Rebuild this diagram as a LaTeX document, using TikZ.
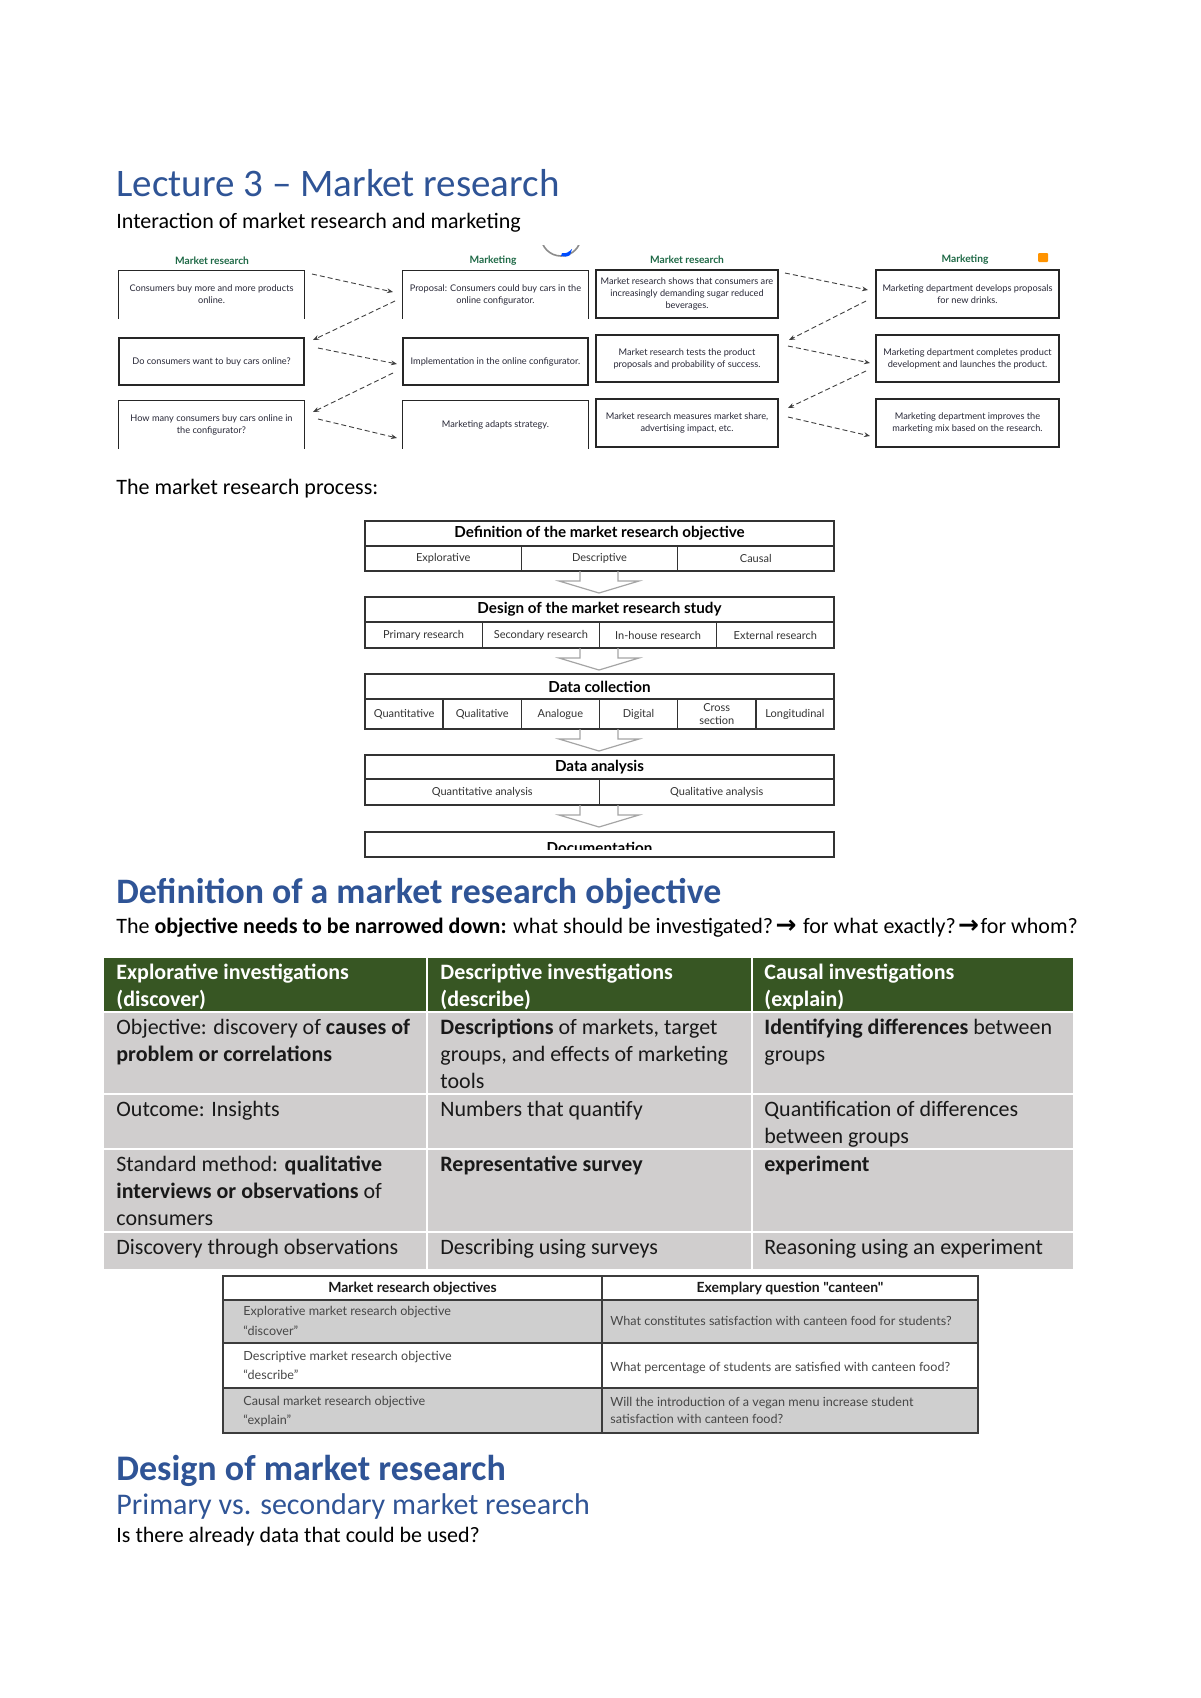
\documentclass[tikz,border=0pt]{standalone}
\usepackage{fontspec}
\setmainfont{Carlito}
\newfontfamily\dgf{Lato}
\newfontfamily\symf{DejaVu Sans}
\usetikzlibrary{arrows.meta}
\definecolor{hblue}{RGB}{47,84,150}
\definecolor{tgreen}{RGB}{55,86,35}
\definecolor{tgray}{RGB}{208,206,206}
\definecolor{lgreen}{RGB}{30,105,70}
\definecolor{dtext}{RGB}{40,40,55}
\definecolor{ttwogray}{RGB}{207,207,207}
\definecolor{ttwoline}{RGB}{60,60,60}
\definecolor{arrgray}{RGB}{165,165,165}
\newcommand\myarr{{\symf\bfseries\fontsize{12.5}{13}\selectfont\hspace{1.2pt}→\hspace{0.8pt}}}
\begin{document}
\begin{tikzpicture}[x=0.5pt,y=-0.5pt,
 tl/.style={anchor=base west,inner sep=0pt},
 tc/.style={anchor=base,inner sep=0pt},
 mbox/.style={draw=black!85,line width=0.6pt,inner sep=1pt,align=center,text=dtext,font=\dgf\fontsize{4.6}{6}\selectfont,minimum height=23.5pt},
 boxline/.style={draw=black!85,line width=0.6pt},
 mlab/.style={inner sep=0pt,text=lgreen,font=\dgf\bfseries\fontsize{5.1}{6}\selectfont},
 darr/.style={draw=black!75,line width=0.45pt,dash pattern=on 2.5pt off 1.5pt,-{Stealth[length=3pt,width=2.4pt]}},
 phead/.style={draw=black!80,line width=0.7pt,minimum width=234.5pt,inner sep=0pt,font=\dgf\bfseries\fontsize{7.6}{9}\selectfont},
 psub/.style={draw=black!80,line width=0.7pt,inner sep=0pt,align=center,text=black!80,font=\dgf\fontsize{5.5}{6.2}\selectfont},
 parr/.style={draw=arrgray,line width=0.6pt},
 gtxt/.style={tl,font=\fontsize{11}{13.5}\selectfont,text=black!90},
 ghd/.style={tl,font=\bfseries\fontsize{11}{13.5}\selectfont,text=white},
 ttwoh/.style={tc,font=\dgf\bfseries\fontsize{7}{8}\selectfont,text=black!90},
 ttwot/.style={tl,font=\dgf\fontsize{6.3}{7.5}\selectfont,text=black!72},
]
\useasboundingbox[fill=white] (0,0) rectangle (1200,1698);

% ---------- title ----------
\node[tl,font=\fontsize{19.5}{23}\selectfont,text=hblue] (title) at (116,196) {Lecture 3 – Market research};
\node[tl,font=\fontsize{11}{13}\selectfont] (subtitle) at (116,228) {Interaction of market research and marketing};

% ---------- interaction diagram ----------
\node[mlab] (lab1) at (212,261) {Market research};
\node[mlab] (lab2) at (493,261) {Marketing};
\node[mlab] (lab3) at (687,260) {Market research};
\node[mlab] (lab4) at (965,260) {Marketing};
\begin{scope}
\clip (530,245) rectangle (600,270);
\draw[black!45,line width=0.8pt] (561,236) circle[radius=10pt];
\end{scope}
\fill[blue!70!cyan] (562,253) .. controls (566,254) and (569,252) .. (572,249) -- (570,255) .. controls (567,257) and (564,257) .. (561,256) -- cycle;
\fill[orange!85!yellow,rounded corners=0.5pt] (1038,253) rectangle (1048,262);

\node[mbox,draw=none,minimum width=92.5pt] (c1r1) at (211.5,294.5) {Consumers buy more and more products\\online.};
\draw[boxline] (c1r1.south west) |- (c1r1.north east) -- (c1r1.south east);
\node[mbox,minimum width=92.5pt] (c1r2) at (211.5,361.5) {Do consumers want to buy cars online?};
\node[mbox,draw=none,minimum width=92.5pt] (c1r3) at (211.5,424.5) {How many consumers buy cars online in\\the configurator?};
\draw[boxline] (c1r3.south west) |- (c1r3.north east) -- (c1r3.south east);

\node[mbox,draw=none,minimum width=92.5pt] (c2r1) at (495.5,294.5) {Proposal: Consumers could buy cars in the\\online configurator.};
\draw[boxline] (c2r1.south west) |- (c2r1.north east) -- (c2r1.south east);
\node[mbox,minimum width=92.5pt] (c2r2) at (495.5,361.5) {Implementation in the online configurator.};
\node[mbox,draw=none,minimum width=92.5pt] (c2r3) at (495.5,424.5) {Marketing adapts strategy.};
\draw[boxline] (c2r3.south west) |- (c2r3.north east) -- (c2r3.south east);

\node[mbox,minimum width=91pt,minimum height=24pt] (c3r1) at (687,294) {Market research shows that consumers are\\increasingly demanding sugar reduced\\beverages.};
\node[mbox,minimum width=91pt] (c3r2) at (687,358.5) {Market research tests the product\\proposals and probability of success.};
\node[mbox,minimum width=91pt,minimum height=24pt] (c3r3) at (687,423) {Market research measures market share,\\advertising impact, etc.};
\node[mbox,minimum width=91.5pt,minimum height=24pt] (c4r1) at (967.5,294) {Marketing department develops proposals\\for new drinks.};
\node[mbox,minimum width=91.5pt] (c4r2) at (967.5,358.5) {Marketing department completes product\\development and launches the product.};
\node[mbox,minimum width=91.5pt,minimum height=24pt] (c4r3) at (967.5,423) {Marketing department improves the\\marketing mix based on the research.};

\coordinate (a1s) at (312,274); \coordinate (a1e) at (393,292);
\coordinate (a2s) at (395,301); \coordinate (a2e) at (313,340);
\coordinate (a3s) at (318,348); \coordinate (a3e) at (397,364);
\coordinate (a4s) at (393,373); \coordinate (a4e) at (313,412);
\coordinate (a5s) at (318,419); \coordinate (a5e) at (397,438);
\coordinate (b1s) at (785,273); \coordinate (b1e) at (868,290);
\coordinate (b2s) at (866,301); \coordinate (b2e) at (789,340);
\coordinate (b3s) at (788,346); \coordinate (b3e) at (870,363);
\coordinate (b4s) at (866,371); \coordinate (b4e) at (788,408);
\coordinate (b5s) at (788,417); \coordinate (b5e) at (870,436);
\foreach \n in {a1,a2,a3,a4,a5,b1,b2,b3,b4,b5} {\draw[darr] (\n s) -- (\n e);}

% ---------- process ----------
\node[tl,font=\fontsize{11}{13}\selectfont] (proc) at (116,494) {The market research process:};

\node[phead,minimum height=12.5pt] (p1h) at (599.5,533.5) {Definition of the market research objective};
\node[psub,minimum width=78.17pt,minimum height=12.5pt] (p1a) at (443.2,558.5) {Explorative};
\node[psub,minimum width=78.17pt,minimum height=12.5pt] (p1b) at (599.5,558.5) {Descriptive};
\node[psub,minimum width=78.17pt,minimum height=12.5pt] (p1c) at (755.8,558.5) {Causal};

\node[phead,minimum height=12.5pt] (p2h) at (599.5,609.5) {Design of the market research study};
\node[psub,minimum width=58.625pt,minimum height=13pt] (p2a) at (423.6,635) {Primary research};
\node[psub,minimum width=58.625pt,minimum height=13pt] (p2b) at (540.9,635) {Secondary research};
\node[psub,minimum width=58.625pt,minimum height=13pt] (p2c) at (658.1,635) {In-house research};
\node[psub,minimum width=58.625pt,minimum height=13pt] (p2d) at (775.4,635) {External research};

\node[phead,minimum height=12.5pt] (p3h) at (599.5,686.5) {Data collection};
\node[psub,minimum width=39.08pt,minimum height=15pt] (p3a) at (404.1,714) {Quantitative};
\node[psub,minimum width=39.08pt,minimum height=15pt] (p3b) at (482.25,714) {Qualitative};
\node[psub,minimum width=39.08pt,minimum height=15pt] (p3c) at (560.4,714) {Analogue};
\node[psub,minimum width=39.08pt,minimum height=15pt] (p3d) at (638.6,714) {Digital};
\node[psub,minimum width=39.08pt,minimum height=15pt] (p3e) at (716.75,714) {Cross\\section};
\node[psub,minimum width=39.08pt,minimum height=15pt] (p3f) at (794.9,714) {Longitudinal};

\node[phead,minimum height=12pt] (p4h) at (599.5,767) {Data analysis};
\node[psub,minimum width=117.25pt,minimum height=13pt] (p4a) at (482.25,792) {Quantitative analysis};
\node[psub,minimum width=117.25pt,minimum height=13pt] (p4b) at (716.75,792) {Qualitative analysis};

\node[phead,minimum height=12.5pt] (p5h) at (599.5,844.5) {};
\begin{scope}
\clip (365,832) rectangle (834,849.5);
\node[tc,font=\dgf\bfseries\fontsize{7.6}{9}\selectfont] (p5t) at (599.5,853) {Documentation};
\end{scope}

\foreach \b in {571,648,729,805} {
  \draw[parr] (580,\b) -- (580,\b+10) -- (559,\b+10) -- (599,\b+22) -- (639,\b+10) -- (618,\b+10) -- (618,\b);
}

% ---------- definition section ----------
\node[tl,font=\bfseries\fontsize{17.9}{21}\selectfont,text=hblue] (h1) at (116,903) {Definition of a market research objective};
\node[tl,font=\fontsize{11}{13}\selectfont] (objline) at (116,933) {The \textbf{objective needs to be narrowed down:} what should be investigated?\myarr{} for what exactly?\myarr for whom?};

% green table
\foreach \xa/\xb in {104/426,428/751,753/1073} {
  \fill[tgreen] (\xa,958) rectangle (\xb,1011);
  \foreach \ya/\yb in {1013/1093,1095/1148,1150/1231,1233/1269}
    \fill[tgray] (\xa,\ya) rectangle (\xb,\yb);
}
\node[ghd] (g11) at (116,979) {Explorative investigations};
\node[ghd] (g12) at (116,1006) {(discover)};
\node[ghd] (g21) at (440,979) {Descriptive investigations};
\node[ghd] (g22) at (440,1006) {(describe)};
\node[ghd] (g31) at (764,979) {Causal investigations};
\node[ghd] (g32) at (764,1006) {(explain)};

\node[gtxt] (r1a1) at (116,1034) {Objective: discovery of \textbf{causes of}};
\node[gtxt] (r1a2) at (116,1061) {\textbf{problem or correlations}};
\node[gtxt] (r1b1) at (440,1034) {\textbf{Descriptions} of markets, target};
\node[gtxt] (r1b2) at (440,1061) {groups, and effects of marketing};
\node[gtxt] (r1b3) at (440,1088) {tools};
\node[gtxt] (r1c1) at (764,1034) {\textbf{Identifying differences} between};
\node[gtxt] (r1c2) at (764,1061) {groups};

\node[gtxt] (r2a1) at (116,1116) {Outcome: Insights};
\node[gtxt] (r2b1) at (440,1116) {Numbers that quantify};
\node[gtxt] (r2c1) at (764,1116) {Quantification of differences};
\node[gtxt] (r2c2) at (764,1143) {between groups};

\node[gtxt] (r3a1) at (116,1171) {Standard method: \textbf{qualitative}};
\node[gtxt] (r3a2) at (116,1198) {\textbf{interviews or observations} of};
\node[gtxt] (r3a3) at (116,1225) {consumers};
\node[gtxt] (r3b1) at (440,1171) {\textbf{Representative survey}};
\node[gtxt] (r3c1) at (764,1171) {\textbf{experiment}};

\node[gtxt] (r4a1) at (116,1254) {Discovery through observations};
\node[gtxt] (r4b1) at (440,1254) {Describing using surveys};
\node[gtxt] (r4c1) at (764,1254) {Reasoning using an experiment};

% second table
\fill[ttwogray] (223,1300) rectangle (978,1343);
\fill[ttwogray] (223,1388) rectangle (978,1433);
\draw[ttwoline,line width=1.2pt] (223,1276) rectangle (978,1433);
\draw[ttwoline,line width=1.2pt] (223,1300) -- (978,1300);
\draw[ttwoline,line width=1.2pt] (223,1343) -- (978,1343);
\draw[ttwoline,line width=1.2pt] (223,1388) -- (978,1388);
\draw[ttwoline,line width=1.2pt] (602,1276) -- (602,1433);
\node[ttwoh] (t2h1) at (412.5,1292) {Market research objectives};
\node[ttwoh] (t2h2) at (790,1292) {Exemplary question "canteen"};
\node[ttwot] (t2a1) at (243,1315) {Explorative market research objective};
\node[ttwot] (t2a2) at (243,1335) {“discover”};
\node[ttwot] (t2b1) at (243,1360) {Descriptive market research objective};
\node[ttwot] (t2b2) at (243,1379) {“describe”};
\node[ttwot] (t2c1) at (243,1405) {Causal market research objective};
\node[ttwot] (t2c2) at (243,1424) {“explain”};
\node[ttwot] (t2d1) at (610,1325) {What constitutes satisfaction with canteen food for students?};
\node[ttwot] (t2e1) at (610,1371) {What percentage of students are satisfied with canteen food?};
\node[ttwot] (t2f1) at (610,1406) {Will the introduction of a vegan menu increase student};
\node[ttwot] (t2f2) at (610,1423) {satisfaction with canteen food?};

% ---------- design section ----------
\node[tl,font=\bfseries\fontsize{18}{21}\selectfont,text=hblue] (h2) at (116,1480) {Design of market research};
\node[tl,font=\fontsize{15}{18}\selectfont,text=hblue] (h3) at (116,1514) {Primary vs. secondary market research};
\node[tl,font=\fontsize{11}{13}\selectfont] (q1) at (116,1542) {Is there already data that could be used?};
\end{tikzpicture}
\end{document}
